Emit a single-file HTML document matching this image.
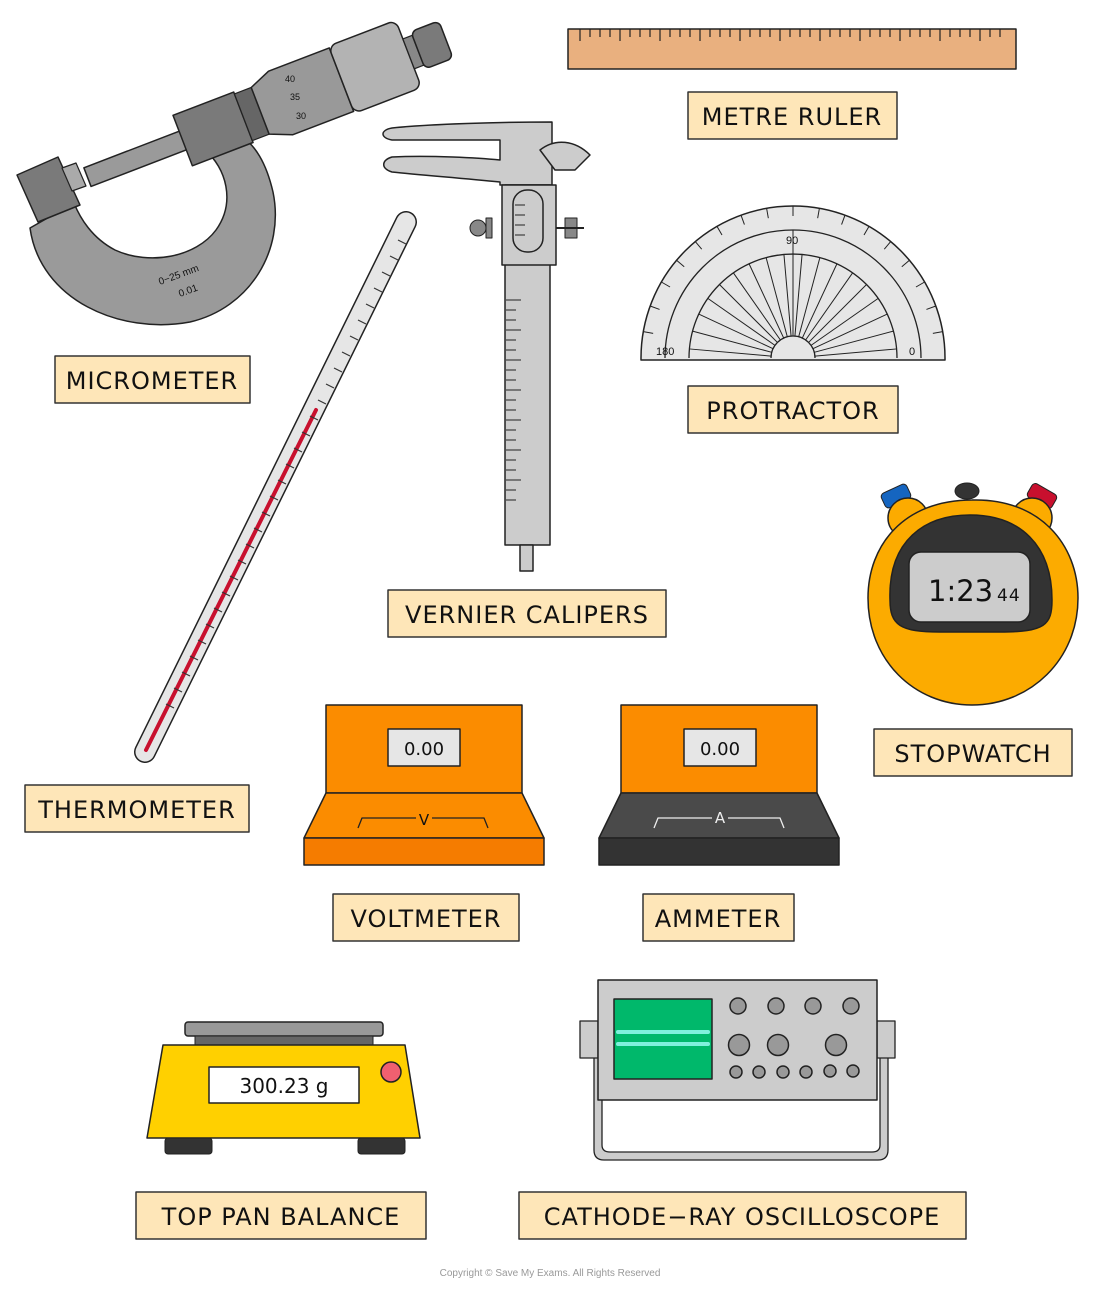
<!DOCTYPE html>
<html><head><meta charset="utf-8"><style>
html,body{margin:0;padding:0;background:#fff}
svg{display:block}
.lb{fill:#fee6b8;stroke:#333;stroke-width:1.5}
.lt{font-family:"DejaVu Sans","Liberation Sans",sans-serif;font-size:24px;fill:#111;letter-spacing:1px}
</style></head><body>
<svg width="1100" height="1289" viewBox="0 0 1100 1289" xmlns="http://www.w3.org/2000/svg" stroke-linejoin="round">
<!-- ruler -->
<rect x="568" y="29" width="448" height="40" fill="#e9b07f" stroke="#222" stroke-width="1.5"/>
<g stroke="#222" stroke-width="1.2">
<path d="M580 29v12M590 29v8M600 29v8M610 29v8M620 29v12M630 29v8M640 29v8M650 29v8M660 29v12M670 29v8M680 29v8M690 29v8M700 29v12M710 29v8M720 29v8M730 29v8M740 29v12M750 29v8M760 29v8M770 29v8M780 29v12M790 29v8M800 29v8M810 29v8M820 29v12M830 29v8M840 29v8M850 29v8M860 29v12M870 29v8M880 29v8M890 29v8M900 29v12M910 29v8M920 29v8M930 29v8M940 29v12M950 29v8M960 29v8M970 29v8M980 29v12M990 29v8M1000 29v8"/>
</g>

<!-- micrometer -->
<path d="M30 228 C40 300,120 335,190 322 C250 308,285 250,273 192 C266 162,255 145,240 135 L205 150 C226 168,236 202,216 230 C196 257,150 266,115 250 C92 238,80 218,74 203 Z" fill="#9a9a9a" stroke="#222" stroke-width="1.5"/>
<polygon points="17,175 58,157 80,205 38,222" fill="#7a7a7a" stroke="#222" stroke-width="1.5"/>
<polygon points="62,168 76,163 86,186 72,191" fill="#aaa" stroke="#222" stroke-width="1.2"/>
<g transform="translate(80,180) rotate(-21)">
<rect x="8" y="-10" width="120" height="20" fill="#9a9a9a" stroke="#222" stroke-width="1.5"/>
<rect x="110" y="-27" width="65" height="54" fill="#7a7a7a" stroke="#222" stroke-width="1.5"/>
<rect x="175" y="-25" width="18" height="50" fill="#666" stroke="#222" stroke-width="1.2"/>
<path d="M193 -25 L215 -34 L280 -34 L280 34 L215 34 L193 25 Z" fill="#999" stroke="#222" stroke-width="1.5"/>
<rect x="280" y="-36" width="72" height="72" rx="8" fill="#b3b3b3" stroke="#222" stroke-width="1.5"/>
<rect x="352" y="-16" width="10" height="32" fill="#888" stroke="#222" stroke-width="1.2"/>
<rect x="362" y="-20" width="30" height="40" rx="6" fill="#7a7a7a" stroke="#222" stroke-width="1.5"/>
</g>
<g font-family="Liberation Sans,sans-serif" font-size="9" fill="#111"><text x="285" y="82">40</text><text x="290" y="100">35</text><text x="296" y="119">30</text>
<text x="160" y="285" transform="rotate(-20 160 285)" font-size="10">0−25 mm</text><text x="180" y="297" transform="rotate(-20 180 297)" font-size="10">0.01</text></g>

<!-- thermometer -->
<line x1="406" y1="222" x2="145" y2="752" stroke="#222" stroke-width="22" stroke-linecap="round"/>
<line x1="406" y1="222" x2="145" y2="752" stroke="#e6e6e6" stroke-width="19" stroke-linecap="round"/>
<line x1="316" y1="410" x2="146" y2="750" stroke="#c8102e" stroke-width="4" stroke-linecap="round"/>
<path d="M398 240l8 4M390 256l8 4M382 272l8 4M374 288l8 4M366 304l8 4M358 320l8 4M350 336l8 4M342 352l8 4M334 368l8 4M326 384l8 4M318 400l8 4M310 416l8 4M302 432l8 4M294 448l8 4M286 464l8 4M278 480l8 4M270 496l8 4M262 512l8 4M254 528l8 4M246 544l8 4M238 560l8 4M230 576l8 4M222 592l8 4M214 608l8 4M206 624l8 4M198 640l8 4M190 656l8 4M182 672l8 4M174 688l8 4M166 704l8 4" stroke="#333" stroke-width="1.2" fill="none"/>

<!-- vernier calipers -->
<path d="M392 128 C430 124,500 122,552 122 L552 185 L500 185 L500 182 C460 178,420 175,392 172 C380 168,382 160,392 157 C430 155,480 158,500 160 L500 140 C460 140,420 140,392 140 C380 138,380 130,392 128 Z" fill="#ccc" stroke="#222" stroke-width="1.5"/>
<path d="M540 150 C555 138,575 140,590 155 L575 170 L555 170 Z" fill="#ccc" stroke="#222" stroke-width="1.5"/>
<rect x="505" y="185" width="45" height="360" fill="#ccc" stroke="#222" stroke-width="1.5"/>
<rect x="520" y="545" width="13" height="26" fill="#ccc" stroke="#222" stroke-width="1.5"/>
<rect x="502" y="185" width="54" height="80" fill="#ccc" stroke="#222" stroke-width="1.5"/>
<rect x="513" y="190" width="30" height="62" rx="14" fill="#ccc" stroke="#222" stroke-width="1.5"/>
<circle cx="478" cy="228" r="8" fill="#888" stroke="#222"/><rect x="486" y="218" width="6" height="20" fill="#888" stroke="#222"/>
<rect x="565" y="218" width="12" height="20" fill="#888" stroke="#222"/><line x1="556" y1="228" x2="584" y2="228" stroke="#222" stroke-width="2"/>
<path d="M506 300h15M506 310h10M506 320h10M506 330h15M506 340h10M506 350h10M506 360h15M506 370h10M506 380h10M506 390h15M506 400h10M506 410h10M506 420h15M506 430h10M506 440h10M506 450h15M506 460h10M506 470h10M506 480h15M506 490h10M506 500h10M515 205h10M515 215h10M515 225h10M515 235h10" stroke="#222" stroke-width="1"/>

<!-- protractor -->
<path d="M641 358 A152 152 0 0 1 945 358 L945 360 L641 360 Z" fill="#e6e6e6" stroke="#222" stroke-width="1.5"/>
<path d="M665 358 A128 128 0 0 1 921 358" fill="none" stroke="#222" stroke-width="1.3"/>
<path d="M689 358 A104 104 0 0 1 897 358" fill="none" stroke="#222" stroke-width="1.3"/>
<path d="M771 358 A22 22 0 0 1 815 358" fill="none" stroke="#222" stroke-width="1.3"/>
<g stroke="#222" stroke-width="1">
<line x1="815" y1="358" x2="897" y2="358" transform="rotate(-5 793 358)"/><line x1="815" y1="358" x2="897" y2="358" transform="rotate(-15 793 358)"/><line x1="815" y1="358" x2="897" y2="358" transform="rotate(-25 793 358)"/><line x1="815" y1="358" x2="897" y2="358" transform="rotate(-35 793 358)"/><line x1="815" y1="358" x2="897" y2="358" transform="rotate(-45 793 358)"/><line x1="815" y1="358" x2="897" y2="358" transform="rotate(-55 793 358)"/><line x1="815" y1="358" x2="897" y2="358" transform="rotate(-65 793 358)"/><line x1="815" y1="358" x2="897" y2="358" transform="rotate(-75 793 358)"/><line x1="815" y1="358" x2="921" y2="358" transform="rotate(-90 793 358)"/><line x1="815" y1="358" x2="897" y2="358" transform="rotate(-105 793 358)"/><line x1="815" y1="358" x2="897" y2="358" transform="rotate(-115 793 358)"/><line x1="815" y1="358" x2="897" y2="358" transform="rotate(-125 793 358)"/><line x1="815" y1="358" x2="897" y2="358" transform="rotate(-135 793 358)"/><line x1="815" y1="358" x2="897" y2="358" transform="rotate(-145 793 358)"/><line x1="815" y1="358" x2="897" y2="358" transform="rotate(-155 793 358)"/><line x1="815" y1="358" x2="897" y2="358" transform="rotate(-165 793 358)"/><line x1="815" y1="358" x2="897" y2="358" transform="rotate(-175 793 358)"/><line x1="815" y1="358" x2="897" y2="358" transform="rotate(-85 793 358)"/><line x1="815" y1="358" x2="897" y2="358" transform="rotate(-95 793 358)"/>
<line x1="935" y1="358" x2="945" y2="358" transform="rotate(-10 793 358)"/><line x1="935" y1="358" x2="945" y2="358" transform="rotate(-20 793 358)"/><line x1="935" y1="358" x2="945" y2="358" transform="rotate(-30 793 358)"/><line x1="935" y1="358" x2="945" y2="358" transform="rotate(-40 793 358)"/><line x1="935" y1="358" x2="945" y2="358" transform="rotate(-50 793 358)"/><line x1="935" y1="358" x2="945" y2="358" transform="rotate(-60 793 358)"/><line x1="935" y1="358" x2="945" y2="358" transform="rotate(-70 793 358)"/><line x1="935" y1="358" x2="945" y2="358" transform="rotate(-80 793 358)"/><line x1="935" y1="358" x2="945" y2="358" transform="rotate(-90 793 358)"/><line x1="935" y1="358" x2="945" y2="358" transform="rotate(-100 793 358)"/><line x1="935" y1="358" x2="945" y2="358" transform="rotate(-110 793 358)"/><line x1="935" y1="358" x2="945" y2="358" transform="rotate(-120 793 358)"/><line x1="935" y1="358" x2="945" y2="358" transform="rotate(-130 793 358)"/><line x1="935" y1="358" x2="945" y2="358" transform="rotate(-140 793 358)"/><line x1="935" y1="358" x2="945" y2="358" transform="rotate(-150 793 358)"/><line x1="935" y1="358" x2="945" y2="358" transform="rotate(-160 793 358)"/><line x1="935" y1="358" x2="945" y2="358" transform="rotate(-170 793 358)"/>
</g>
<g font-family="Liberation Sans,sans-serif" font-size="11" fill="#111"><text x="786" y="244">90</text><text x="656" y="355">180</text><text x="909" y="355">0</text></g>

<!-- stopwatch -->
<rect x="882" y="488" width="28" height="16" rx="4" fill="#1565c0" stroke="#222" transform="rotate(-25 896 496)"/>
<rect x="1028" y="488" width="28" height="16" rx="4" fill="#c8102e" stroke="#222" transform="rotate(30 1042 496)"/>
<ellipse cx="967" cy="491" rx="12" ry="8" fill="#333" stroke="#222"/>
<circle cx="908" cy="518" r="20" fill="#fcab00" stroke="#222" stroke-width="1.5"/>
<circle cx="1032" cy="518" r="20" fill="#fcab00" stroke="#222" stroke-width="1.5"/>
<path d="M972 500 C1040 498,1078 545,1078 598 C1078 660,1030 705,972 705 C914 705,868 660,868 598 C868 545,904 500,972 500 Z" fill="#fcab00" stroke="#222" stroke-width="1.5"/>
<path d="M890 600 C888 540,925 515,970 515 C1020 515,1052 545,1052 600 C1052 625,1045 632,1000 632 L940 632 C900 632,890 625,890 600 Z" fill="#333" stroke="#222" stroke-width="1.5"/>
<rect x="909" y="552" width="121" height="70" rx="12" fill="#ccc" stroke="#222" stroke-width="1.5"/>
<text x="928" y="601" font-family="DejaVu Sans,sans-serif" font-size="29" fill="#111">1:23</text>
<text x="997" y="601" font-family="DejaVu Sans,sans-serif" font-size="17" fill="#111" letter-spacing="1">44</text>

<!-- voltmeter -->
<rect x="326" y="705" width="196" height="88" fill="#fb8c00" stroke="#222" stroke-width="1.5"/>
<rect x="388" y="729" width="72" height="37" fill="#e6e6e6" stroke="#222" stroke-width="1.5"/>
<text x="424" y="755" text-anchor="middle" font-family="DejaVu Sans,sans-serif" font-size="18" fill="#111">0.00</text>
<polygon points="326,793 522,793 544,838 304,838" fill="#fb8c00" stroke="#222" stroke-width="1.5"/>
<rect x="304" y="838" width="240" height="27" fill="#f57c00" stroke="#222" stroke-width="1.5"/>
<path d="M358 828 L362 818 H416 M432 818 H484 L488 828" fill="none" stroke="#222" stroke-width="1.3"/>
<text x="424" y="825" text-anchor="middle" font-family="DejaVu Sans,sans-serif" font-size="15" fill="#111">V</text>
<!-- ammeter -->
<rect x="621" y="705" width="196" height="88" fill="#fb8c00" stroke="#222" stroke-width="1.5"/>
<rect x="684" y="729" width="72" height="37" fill="#e6e6e6" stroke="#222" stroke-width="1.5"/>
<text x="720" y="755" text-anchor="middle" font-family="DejaVu Sans,sans-serif" font-size="18" fill="#111">0.00</text>
<polygon points="621,793 817,793 839,838 599,838" fill="#4a4a4a" stroke="#222" stroke-width="1.5"/>
<rect x="599" y="838" width="240" height="27" fill="#333" stroke="#222" stroke-width="1.5"/>
<path d="M654 828 L658 818 H712 M728 818 H780 L784 828" fill="none" stroke="#eee" stroke-width="1.3"/>
<text x="720" y="823" text-anchor="middle" font-family="DejaVu Sans,sans-serif" font-size="15" fill="#eee">A</text>

<!-- balance -->
<rect x="185" y="1022" width="198" height="14" rx="3" fill="#999" stroke="#222" stroke-width="1.5"/>
<rect x="195" y="1036" width="178" height="9" fill="#666" stroke="#222"/>
<polygon points="163,1045 405,1045 420,1138 147,1138" fill="#ffd000" stroke="#222" stroke-width="1.5"/>
<rect x="165" y="1138" width="47" height="16" rx="3" fill="#333" stroke="#222"/>
<rect x="358" y="1138" width="47" height="16" rx="3" fill="#333" stroke="#222"/>
<rect x="209" y="1067" width="150" height="36" fill="#fff" stroke="#222" stroke-width="1.5"/>
<text x="284" y="1093" text-anchor="middle" font-family="DejaVu Sans,sans-serif" font-size="20" fill="#111">300.23 g</text>
<circle cx="391" cy="1072" r="10" fill="#f06070" stroke="#222" stroke-width="1.5"/>

<!-- oscilloscope -->
<path d="M594 1055 V1150 Q594 1160 604 1160 H878 Q888 1160 888 1150 V1055 H880 V1145 Q880 1152 872 1152 H610 Q602 1152 602 1145 V1055 Z" fill="#ccc" stroke="#222" stroke-width="1.3"/>
<rect x="580" y="1021" width="18" height="37" fill="#ccc" stroke="#222" stroke-width="1.3"/>
<rect x="877" y="1021" width="18" height="37" fill="#ccc" stroke="#222" stroke-width="1.3"/>
<rect x="598" y="980" width="279" height="120" fill="#ccc" stroke="#222" stroke-width="1.5"/>
<rect x="614" y="999" width="98" height="80" fill="#00b86b" stroke="#222" stroke-width="1.5"/>
<line x1="618" y1="1032" x2="708" y2="1032" stroke="#7ff0dc" stroke-width="4" stroke-linecap="round"/>
<line x1="618" y1="1044" x2="708" y2="1044" stroke="#7ff0dc" stroke-width="4" stroke-linecap="round"/>
<g fill="#999" stroke="#222" stroke-width="1.5">
<circle cx="738" cy="1006" r="8"/><circle cx="776" cy="1006" r="8"/><circle cx="813" cy="1006" r="8"/><circle cx="851" cy="1006" r="8"/>
<circle cx="739" cy="1045" r="10.5"/><circle cx="778" cy="1045" r="10.5"/><circle cx="836" cy="1045" r="10.5"/>
<circle cx="736" cy="1072" r="6"/><circle cx="759" cy="1072" r="6"/><circle cx="783" cy="1072" r="6"/><circle cx="806" cy="1072" r="6"/><circle cx="830" cy="1071" r="6"/><circle cx="853" cy="1071" r="6"/>
</g>

<!-- labels -->
<rect class="lb" x="688" y="92" width="209" height="47"/><text class="lt" x="792" y="125" text-anchor="middle">METRE RULER</text>
<rect class="lb" x="55" y="356" width="195" height="47"/><text class="lt" x="152" y="389" text-anchor="middle">MICROMETER</text>
<rect class="lb" x="688" y="386" width="210" height="47"/><text class="lt" x="793" y="419" text-anchor="middle">PROTRACTOR</text>
<rect class="lb" x="388" y="590" width="278" height="47"/><text class="lt" x="527" y="623" text-anchor="middle">VERNIER CALIPERS</text>
<rect class="lb" x="874" y="729" width="198" height="47"/><text class="lt" x="973" y="762" text-anchor="middle">STOPWATCH</text>
<rect class="lb" x="25" y="785" width="224" height="47"/><text class="lt" x="137" y="818" text-anchor="middle">THERMOMETER</text>
<rect class="lb" x="333" y="894" width="186" height="47"/><text class="lt" x="426" y="927" text-anchor="middle">VOLTMETER</text>
<rect class="lb" x="643" y="894" width="151" height="47"/><text class="lt" x="718" y="927" text-anchor="middle">AMMETER</text>
<rect class="lb" x="136" y="1192" width="290" height="47"/><text class="lt" x="281" y="1225" text-anchor="middle">TOP PAN BALANCE</text>
<rect class="lb" x="519" y="1192" width="447" height="47"/><text class="lt" x="742" y="1225" text-anchor="middle">CATHODE−RAY OSCILLOSCOPE</text>

<text x="550" y="1276" text-anchor="middle" font-family="Liberation Sans,sans-serif" font-size="10" fill="#999">Copyright © Save My Exams. All Rights Reserved</text>
</svg>
</body></html>
